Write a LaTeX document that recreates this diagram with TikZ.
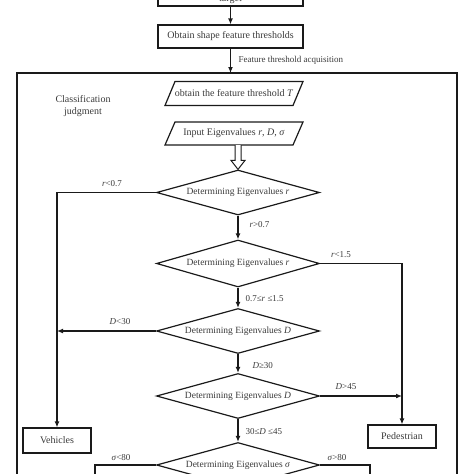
\documentclass[tikz,border=0pt]{standalone}
\usepackage{fontspec}
\setmainfont{Liberation Serif}
\usetikzlibrary{shapes.geometric,arrows.meta,calc}
\definecolor{ln}{HTML}{1A1A1A}
\definecolor{txt}{HTML}{3A3A3A}
\begin{document}
\begin{tikzpicture}[x=1pt,y=-1pt,
  every node/.style={font=\fontsize{9.5}{11}\selectfont, text=txt},
  box/.style={draw=ln, line width=1.2pt, rectangle, minimum width=145pt, minimum height=23pt, inner sep=0pt, font=\fontsize{10}{12}\selectfont},
  pbox/.style={minimum width=120pt, minimum height=23pt, inner sep=0pt, font=\fontsize{10}{12}\selectfont},
  dec/.style={draw=ln, line width=1.2pt, diamond, minimum width=163pt, minimum height=45pt, inner sep=0pt, aspect=3.5},
  lbl/.style={font=\fontsize{9}{10}\selectfont},
  conn/.style={draw=ln, line width=1.2pt},
  arr/.style={conn, -{Latex[length=6pt,width=5pt]}},
  hollow/.style={draw=ln, line width=1pt, fill=white, line join=miter},
]
\useasboundingbox (0,0) rectangle (474,474);
\clip (0,0) rectangle (474,474);

% top (cropped) box
\node[box, minimum height=40pt] (t0) at (230.5,-14) {};
\node[font=\fontsize{10}{12}\selectfont] (t0txt) at (230.5,-0.5) {target};

\node[box] (b1) at (230.5,36.5) {Obtain shape feature thresholds};
\draw[arr] (t0.south) -- (b1.north);

\coordinate (ftop) at (230.5,73);
\draw[arr] (b1.south) -- (ftop);
\node[lbl, anchor=west] (lfa) at (235,60) {Feature threshold acquisition};

% frame
\draw[draw=ln, line width=1.2pt] (17,73) rectangle (457,560);
\node[align=center, font=\fontsize{10}{12}\selectfont] (cj) at (83,106) {Classification\\judgment};

% parallelograms
\node[pbox] (p1) at (234,93.5) {obtain the feature threshold \textit{T}};
\draw[conn, line join=miter] ($(p1)+(-69,12)$) -- ($(p1)+(59,12)$) -- ($(p1)+(69,-12)$) -- ($(p1)+(-59,-12)$) -- cycle;
\node[pbox] (p2) at (234,133.5) {Input Eigenvalues \textit{r}, \textit{D}, \textit{σ}};
\draw[conn, line join=miter] ($(p2)+(-69,11.5)$) -- ($(p2)+(59,11.5)$) -- ($(p2)+(69,-11.5)$) -- ($(p2)+(-59,-11.5)$) -- cycle;

% diamonds
\node[dec] (d1) at (238,192.5) {Determining Eigenvalues \textit{r}};
\node[dec, minimum height=47pt] (d2) at (238,263.5) {Determining Eigenvalues \textit{r}};
\node[dec] (d3) at (238,331) {Determining Eigenvalues \textit{D}};
\node[dec] (d4) at (238,396) {Determining Eigenvalues \textit{D}};
\node[dec] (d5) at (238,465) {Determining Eigenvalues \textit{σ}};

% hollow arrow
\coordinate (hs) at (d1.north |- p2.south);
\draw[hollow] ($(hs)+(-3,0)$) -- ($(d1.north)+(-3,-9)$) -- ($(d1.north)+(-7,-9)$) -- (d1.north) -- ($(d1.north)+(7,-9)$) -- ($(d1.north)+(3,-9)$) -- ($(hs)+(3,0)$);

% result boxes
\node[box, minimum width=68pt, minimum height=25pt] (veh) at (57,440.5) {Vehicles};
\node[box, minimum width=68pt, minimum height=23pt] (ped) at (402,436.5) {Pedestrian};

% connectors
\draw[arr] (d1.west) -| (veh.north);
\node[lbl] (l1) at (112,184) {\textit{r}<0.7};
\draw[arr] (d1.south) -- (d2.north);
\node[lbl, anchor=west] (l2) at (246,225) {\textit{r}>0.7};
\draw[arr] (d2.east) -| (ped.north);
\node[lbl] (l3) at (341,255) {\textit{r}<1.5};
\draw[arr] (d2.south) -- (d3.north);
\node[lbl, anchor=west] (l4) at (242,299) {0.7≤\textit{r} ≤1.5};
\coordinate (dl) at (veh.north |- d3.west);
\draw[arr] (d3.west) -- (dl);
\node[lbl] (l5) at (120,322) {\textit{D}<30};
\draw[arr] (d3.south) -- (d4.north);
\node[lbl, anchor=west] (l6) at (249,366) {\textit{D}≥30};
\coordinate (dr) at (ped.north |- d4.east);
\draw[arr] (d4.east) -- (dr);
\node[lbl] (l7) at (346,387) {\textit{D}>45};
\draw[arr] (d4.south) -- (d5.north);
\node[lbl, anchor=west] (l8) at (242,432) {30≤\textit{D} ≤45};
\coordinate (sl) at (95,510);
\draw[conn] (d5.west) -| (sl);
\node[lbl] (l9) at (121,458) {\textit{σ}<80};
\coordinate (sr) at (370,510);
\draw[conn] (d5.east) -| (sr);
\node[lbl] (l10) at (337,458) {\textit{σ}>80};
\end{tikzpicture}
\end{document}
